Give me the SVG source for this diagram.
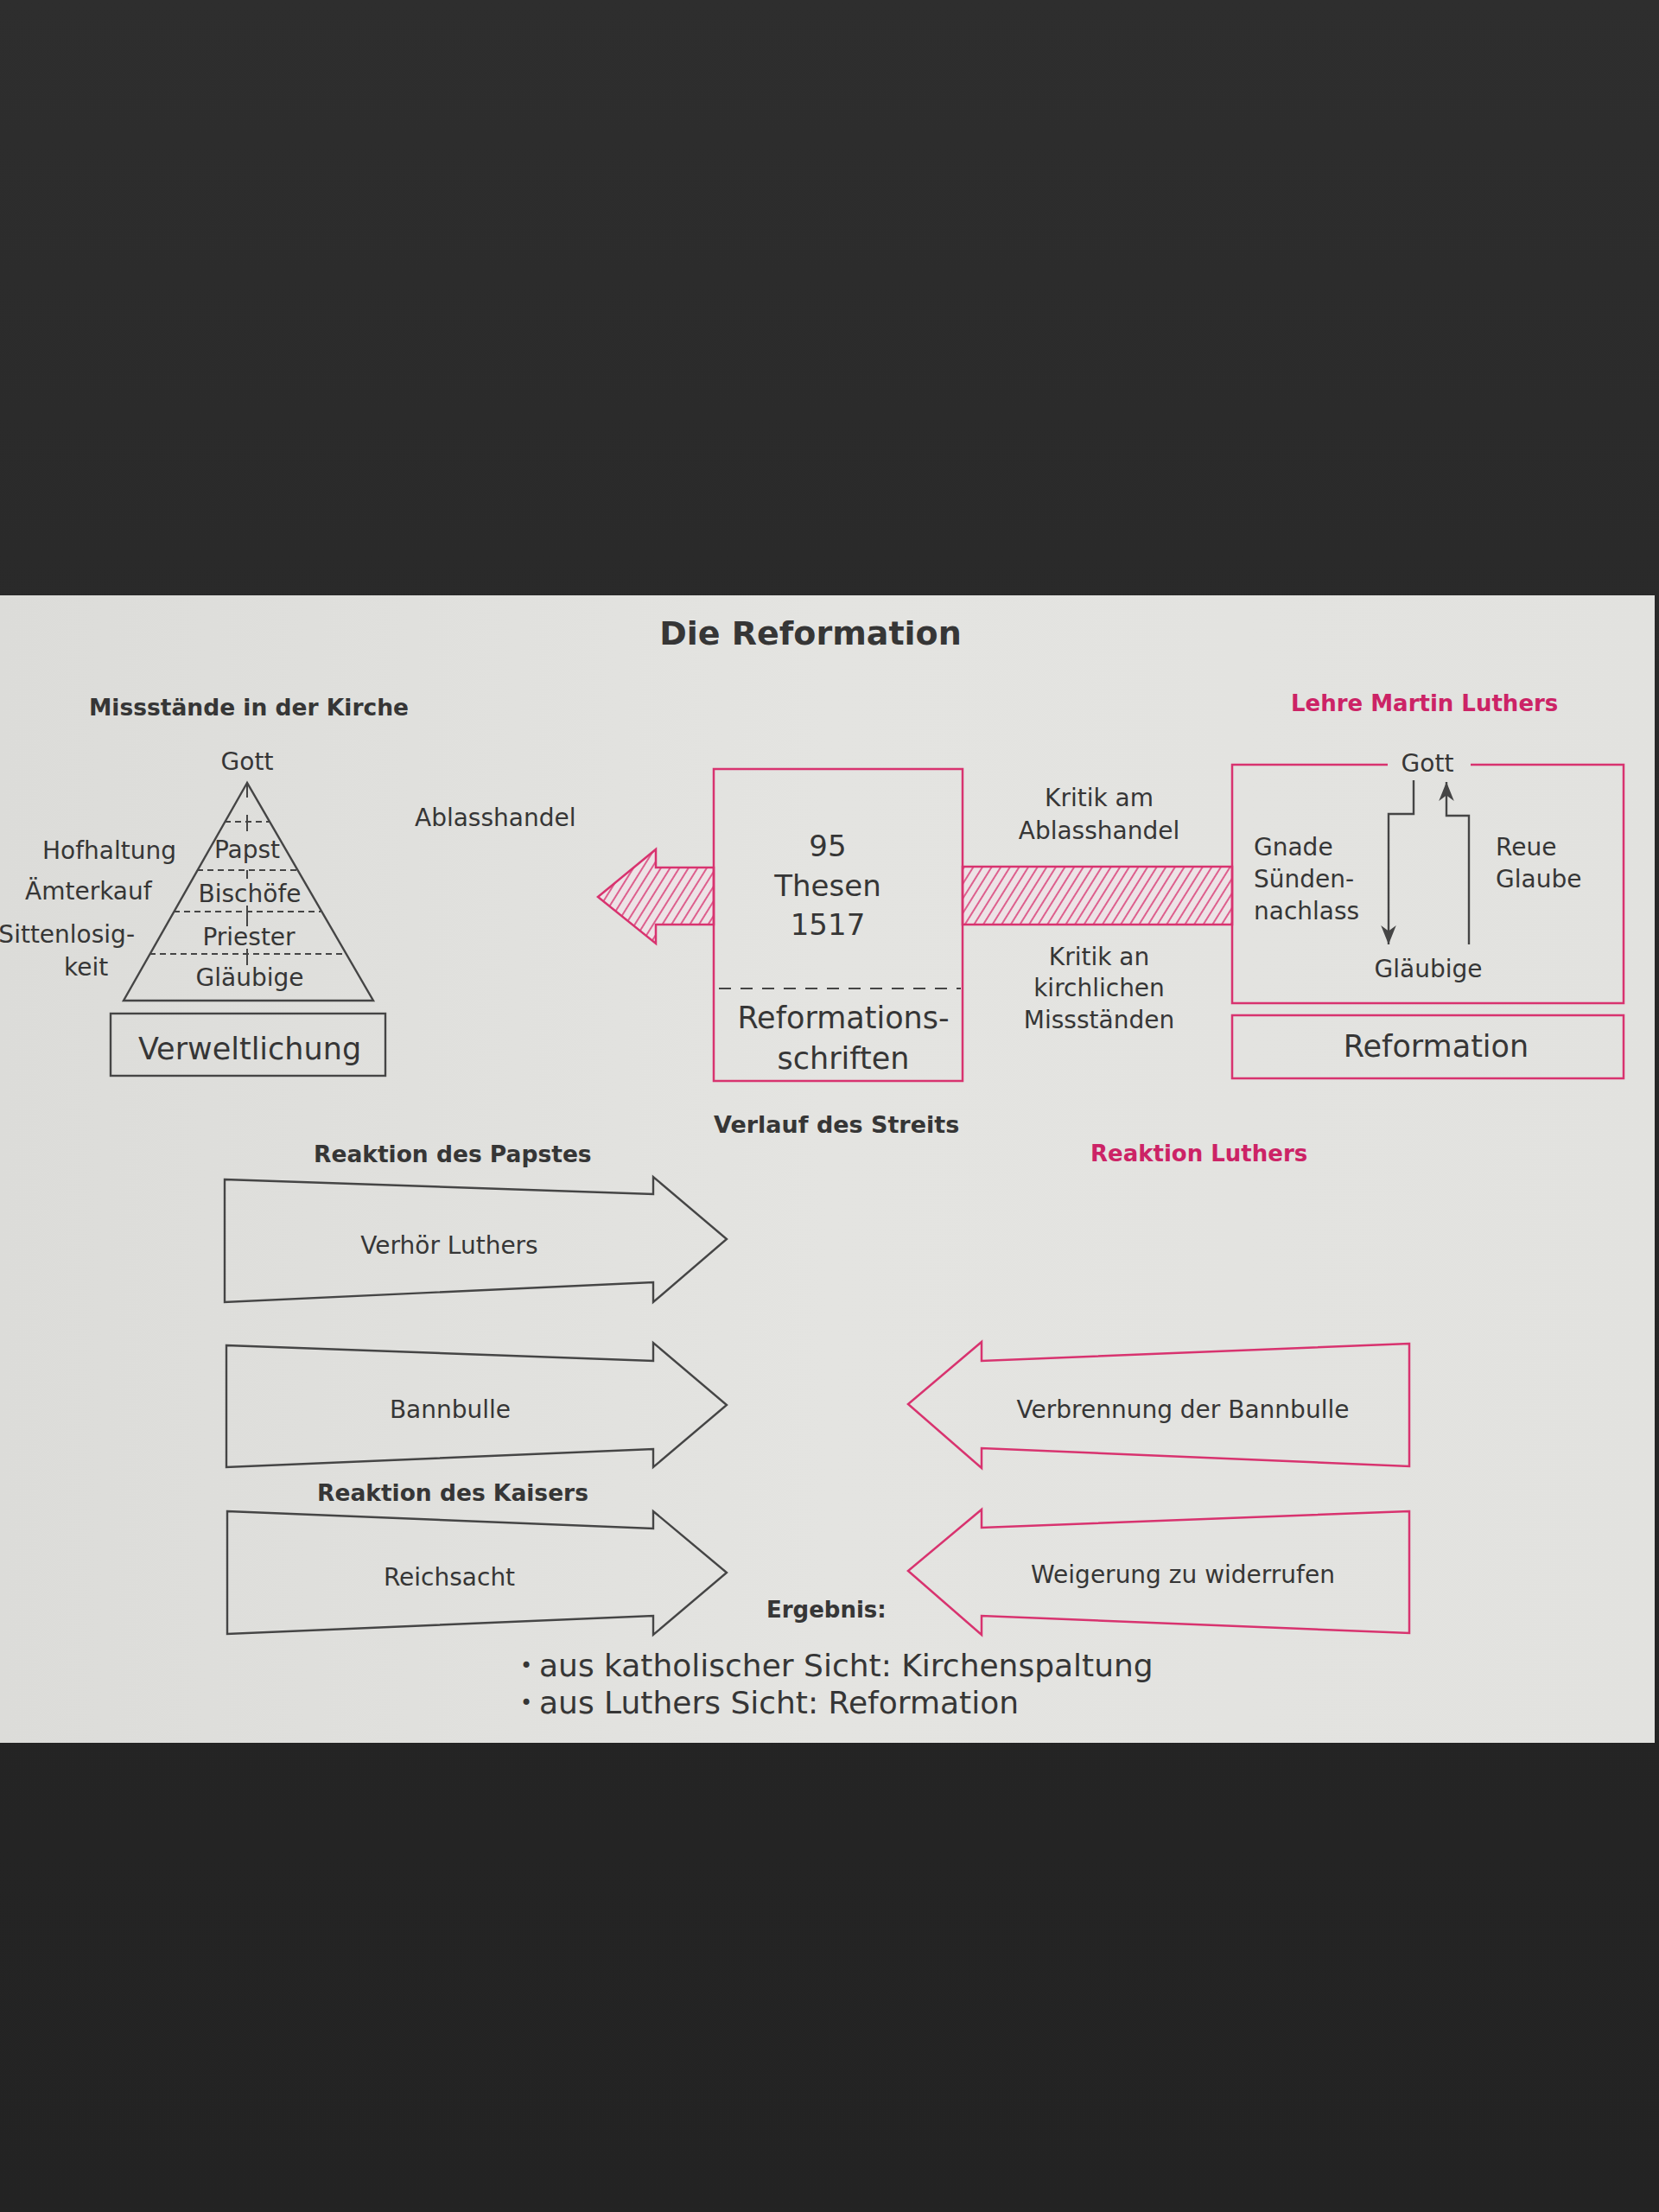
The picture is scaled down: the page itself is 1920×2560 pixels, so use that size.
<svg xmlns="http://www.w3.org/2000/svg" width="1920" height="2560" viewBox="0 0 1920 2560">
<defs>
<style>
text{font-family:"DejaVu Sans","Liberation Sans",sans-serif;fill:#363636}
.t{font-size:28px}
.h{font-size:26.5px;font-weight:bold}
.pk{fill:#cc2366}
.big{font-size:35px}
.c{text-anchor:middle}
.dk{fill:none;stroke:#454545;stroke-width:2.4}
.pl{fill:none;stroke:#d8336f;stroke-width:2.5}
.dash{stroke:#454545;stroke-width:2;stroke-dasharray:7 5;fill:none}
.dash2{stroke:#454545;stroke-width:2;stroke-dasharray:14 11;fill:none}
</style>
<linearGradient id="bg" x1="0" y1="0" x2="0" y2="1">
<stop offset="0" stop-color="#2e2e2e"/>
<stop offset="0.5" stop-color="#262626"/>
<stop offset="1" stop-color="#232323"/>
</linearGradient>
<linearGradient id="sheet" x1="0" y1="0" x2="1" y2="0">
<stop offset="0" stop-color="#dcdcd9"/>
<stop offset="0.5" stop-color="#e4e4e1"/>
<stop offset="1" stop-color="#e2e2df"/>
</linearGradient>
<pattern id="hatch" width="9" height="9" patternUnits="userSpaceOnUse" patternTransform="rotate(32)">
<rect width="9" height="9" fill="#ede3e6"/>
<line x1="2" y1="0" x2="2" y2="9" stroke="#d8336f" stroke-width="1.5"/>
</pattern>
<marker id="ah" viewBox="0 0 10 10" refX="10" refY="5" markerUnits="userSpaceOnUse" markerWidth="22" markerHeight="22" orient="auto">
<path d="M0,1 L10,5 L0,9 L3,5 z" fill="#454545"/>
</marker>
</defs>

<rect x="0" y="0" width="1920" height="2560" fill="url(#bg)"/>
<rect x="0" y="689" width="1915" height="1328" fill="url(#sheet)"/>

<text x="938" y="746" class="c" style="font-size:38px;font-weight:bold">Die Reformation</text>

<g id="missstaende">
<text x="103" y="828" class="h">Missstände in der Kirche</text>
<text x="286" y="891" class="t c">Gott</text>
<polygon class="dk" points="286,906 143,1158 432,1158"/>
<line class="dash" x1="260" y1="951" x2="312" y2="951"/>
<line class="dash" x1="228" y1="1007" x2="344" y2="1007"/>
<line class="dash" x1="201" y1="1055" x2="371" y2="1055"/>
<line class="dash" x1="173" y1="1104" x2="399" y2="1104"/>
<g stroke="#454545" stroke-width="2">
<line x1="286" y1="907" x2="286" y2="923"/>
<line x1="286" y1="943" x2="286" y2="962"/>
<line x1="286" y1="1007" x2="286" y2="1017"/>
<line x1="286" y1="1048" x2="286" y2="1072"/>
<line x1="286" y1="1098" x2="286" y2="1117"/>
</g>
<text x="286" y="993" class="t c">Papst</text>
<text x="289" y="1044" class="t c">Bischöfe</text>
<text x="288" y="1094" class="t c">Priester</text>
<text x="289" y="1141" class="t c">Gläubige</text>
<text x="49" y="994" class="t">Hofhaltung</text>
<text x="29" y="1041" class="t">Ämterkauf</text>
<text x="156" y="1091" class="t" text-anchor="end">Sittenlosig-</text>
<text x="74" y="1129" class="t">keit</text>
</g>

<g id="ablasshandel">
<text x="480" y="956" class="t">Ablasshandel</text>
</g>

<g id="verweltlichung">
<rect class="dk" x="128" y="1173" width="318" height="72"/>
<text x="289" y="1226" class="big c">Verweltlichung</text>
</g>

<g id="connectors">
<polygon points="826,1004 759,1004 759,983 692,1038 759,1092 759,1070 826,1070" fill="url(#hatch)" stroke="#d8336f" stroke-width="2.5"/>
<rect x="1114" y="1003" width="312" height="67" fill="url(#hatch)" stroke="#d8336f" stroke-width="2.5"/>
<path class="dk" d="M1636,903 V942 H1607 V1093" marker-end="url(#ah)"/>
<path class="dk" d="M1700,1093 V944 H1674 V905" marker-end="url(#ah)"/>
</g>

<g id="thesen">
<rect class="pl" x="826" y="890" width="288" height="361"/>
<line class="dash2" x1="832" y1="1144" x2="1112" y2="1144"/>
<text x="958" y="991" class="c" style="font-size:34px">95</text>
<text x="958" y="1037" class="c" style="font-size:34px">Thesen</text>
<text x="958" y="1082" class="c" style="font-size:34px">1517</text>
<text x="976" y="1190" class="big c">Reformations-</text>
<text x="976" y="1237" class="big c">schriften</text>
</g>

<g id="kritik">
<text x="1272" y="933" class="t c">Kritik am</text>
<text x="1272" y="971" class="t c">Ablasshandel</text>
<text x="1272" y="1117" class="t c">Kritik an</text>
<text x="1272" y="1153" class="t c">kirchlichen</text>
<text x="1272" y="1190" class="t c">Missständen</text>
</g>

<g id="lehre">
<text x="1494" y="823" class="h pk" style="font-size:26px">Lehre Martin Luthers</text>
<path class="pl" d="M1606,885 H1426 V1161 H1879 V885 H1702"/>
<text x="1652" y="893" class="t c">Gott</text>
<text x="1451" y="990" class="t">Gnade</text>
<text x="1451" y="1027" class="t">Sünden-</text>
<text x="1451" y="1064" class="t">nachlass</text>
<text x="1731" y="990" class="t">Reue</text>
<text x="1731" y="1027" class="t">Glaube</text>
<text x="1653" y="1131" class="t c">Gläubige</text>
</g>

<g id="reformation">
<rect class="pl" x="1426" y="1175" width="453" height="73"/>
<text x="1662" y="1223" class="big c">Reformation</text>
</g>

<g id="verlauf">
<text x="826" y="1311" class="h" style="font-size:27px">Verlauf des Streits</text>
</g>

<g id="papst">
<text x="363" y="1345" class="h">Reaktion des Papstes</text>
</g>
<g id="verhoer">
<polygon class="dk" points="260,1365 756,1382 756,1362 841,1434 756,1507 756,1484 260,1507"/>
<text x="520" y="1451" class="t c">Verhör Luthers</text>
</g>
<g id="bannbulle">
<polygon class="dk" points="262,1557 756,1575 756,1554 841,1626 756,1698 756,1677 262,1698"/>
<text x="521" y="1641" class="t c">Bannbulle</text>
</g>
<g id="kaiser">
<text x="367" y="1737" class="h">Reaktion des Kaisers</text>
</g>
<g id="reichsacht">
<polygon class="dk" points="263,1749 756,1769 756,1749 841,1820 756,1892 756,1870 263,1891"/>
<text x="520" y="1835" class="t c">Reichsacht</text>
</g>

<g id="luther">
<text x="1262" y="1344" class="h pk" style="font-size:26px">Reaktion Luthers</text>
</g>
<g id="verbrennung">
<polygon class="pl" points="1631,1555 1136,1575 1136,1553 1051,1625 1136,1699 1136,1676 1631,1697"/>
<text x="1369" y="1641" class="t c">Verbrennung der Bannbulle</text>
</g>
<g id="weigerung">
<polygon class="pl" points="1631,1749 1136,1768 1136,1747 1051,1818 1136,1892 1136,1870 1631,1890"/>
<text x="1369" y="1832" class="t c">Weigerung zu widerrufen</text>
</g>

<g id="ergebnis">
<text x="887" y="1872" class="h" style="font-size:26px">Ergebnis:</text>
<text x="602" y="1940" style="font-size:36px"><tspan style="font-size:24px" dy="-4">•</tspan><tspan x="624" dy="4">aus katholischer Sicht: Kirchenspaltung</tspan></text>
<text x="602" y="1983" style="font-size:36px"><tspan style="font-size:24px" dy="-4">•</tspan><tspan x="624" dy="4">aus Luthers Sicht: Reformation</tspan></text>
</g>
</svg>
